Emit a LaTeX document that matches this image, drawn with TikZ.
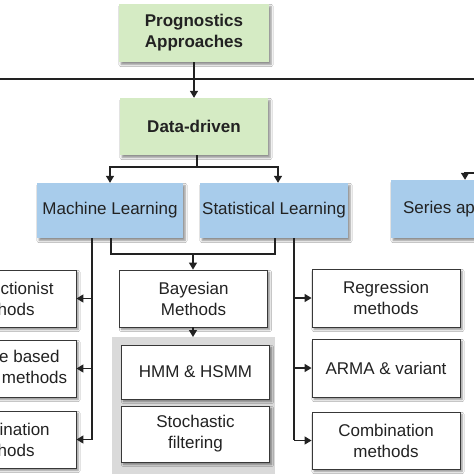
\documentclass[tikz,border=0pt]{standalone}
\usepackage{fontspec}
\setmainfont{Liberation Sans}
\usetikzlibrary{shadows.blur,arrows.meta}
\definecolor{boxgreen}{HTML}{D5EBC4}
\definecolor{boxblue}{HTML}{A8CCEB}
\definecolor{panelgray}{HTML}{DADADA}
\definecolor{ink}{HTML}{222222}
\begin{document}
\begin{tikzpicture}[x=1pt,y=-1pt,
  box/.style={minimum width=148pt, minimum height=57pt, inner sep=0pt, align=center,
    text=ink, font=\fontsize{17}{21}\selectfont,
    blur shadow={shadow xshift=2pt, shadow yshift=-2.5pt, shadow blur steps=5, shadow opacity=45}},
  greenbox/.style={box, fill=boxgreen, font=\fontsize{17}{21}\selectfont\bfseries},
  bluebox/.style={box, fill=boxblue},
  whitebox/.style={box, fill=white, draw=ink!90, line width=0.9pt},
  panel/.style={fill=panelgray, inner sep=0pt, anchor=north west},
  conn/.style={draw=ink, line width=1.3pt},
  arr/.style={conn, -{Triangle[length=7pt,width=8pt]}}]
\useasboundingbox (0,0) rectangle (474,474);
\clip (0,0) rectangle (474,474);
\fill[white] (0,0) rectangle (474,474);

% grey panel behind the Bayesian sub-methods
\node[panel, minimum width=163pt, minimum height=150pt] (panel) at (112,337) {};

% top level
\node[greenbox, minimum width=150pt, minimum height=58pt] (prog) at (194,33) {Prognostics\\Approaches};
\node[greenbox] (dd) at (194,126.5) {Data-driven};

% learning families
\node[bluebox, minimum width=146pt, minimum height=55pt] (ml) at (110,210.5) {Machine Learning};
\node[bluebox, minimum height=55pt] (sl) at (274,210.5) {Statistical Learning};
\node[bluebox, minimum width=166pt, minimum height=58pt] (series) at (474,209) {Series approaches};

% machine learning methods
\node[whitebox] (connm) at (2,298.5) {Connectionist\\methods};
\node[whitebox] (ibl) at (2,368.5) {Instance based\\learning methods};
\node[whitebox] (combl) at (2,439.5) {Combination\\methods};

% Bayesian methods
\node[whitebox] (bayes) at (193.5,298.5) {Bayesian\\Methods};
\node[whitebox, minimum height=54pt] (hmm) at (195.5,372) {HMM \& HSMM};
\node[whitebox, minimum height=56pt] (stoch) at (195.5,434) {Stochastic\\filtering};

% statistical learning methods
\node[whitebox, minimum height=58pt] (reg) at (386,298) {Regression\\methods};
\node[whitebox, minimum height=58pt] (arma) at (386,368) {ARMA \& variant};
\node[whitebox] (combr) at (386,440.5) {Combination\\methods};

% top connectors
\draw[arr] (prog) -- (dd);
\coordinate (hl) at (-5,79);
\coordinate (hr) at (495,79);
\draw[conn] (hl) -- (hr);
\coordinate (sj) at (465,173);
\draw[arr] (hr) |- (sj) -- (sj |- series.north);

% data-driven split
\coordinate (ddj) at (197,167);
\coordinate (slin) at (278,0);
\draw[conn] (dd.south -| ddj) -- (ddj);
\draw[arr] (ddj) -| (ml.north);
\draw[arr] (ddj) -| (slin |- sl.north);

% machine learning spine
\coordinate (mls) at (92,440);
\draw[conn] (ml.south -| mls) -- (mls);
\draw[arr] (mls |- connm.east) -- (connm.east);
\draw[arr] (mls |- ibl.east) -- (ibl.east);
\draw[arr] (mls |- combl.east) -- (combl.east);

% shared Bayesian branch
\coordinate (mlb) at (111,254);
\coordinate (slb) at (275,254);
\coordinate (bj) at (193,254);
\draw[conn] (ml.south -| mlb) -- (mlb) -- (slb) -- (sl.south -| slb);
\draw[arr] (bj) -- (bayes.north -| bj);
\draw[arr] (bayes.south -| bj) -- (panel.north -| bj);

% statistical learning spine
\coordinate (sls) at (294,440);
\draw[conn] (sl.south -| sls) -- (sls);
\draw[arr] (sls |- reg.west) -- (reg.west);
\draw[arr] (sls |- arma.west) -- (arma.west);
\draw[arr] (sls |- combr.west) -- (combr.west);
\end{tikzpicture}
\end{document}
